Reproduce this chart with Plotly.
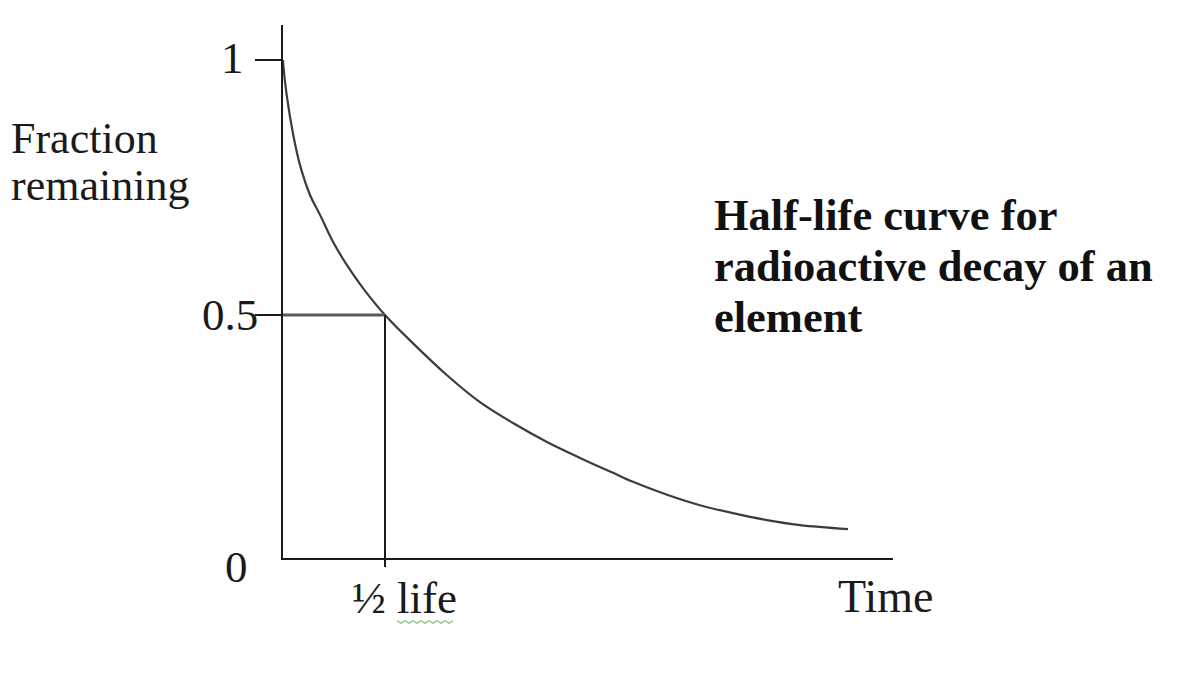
import plotly.graph_objects as go

# ---- data (x in half-lives, y = fraction remaining) ----
time_vals = [0.0, 0.003, 0.036, 0.101, 0.167, 0.265, 0.363, 0.490, 0.627, 0.784,
             1.0, 1.275, 1.608, 1.931, 2.255, 2.588, 2.912, 3.235, 3.431, 3.765,
             4.088, 4.412, 4.745, 5.069, 5.539]
fraction_vals = [1.0, 0.990, 0.930, 0.849, 0.789, 0.729, 0.689, 0.635, 0.588, 0.542,
                 0.488, 0.431, 0.367, 0.313, 0.271, 0.233, 0.201, 0.171, 0.153, 0.127,
                 0.106, 0.090, 0.076, 0.066, 0.058]
half_life = 1.0
half_fraction = 0.488
y_tick_vals = [half_fraction, 1.0]
x_tick_vals = [half_life]

# ---- figure geometry ----
W, H = 1200, 675
OFF = 8  # page offset of the plot div
PLOT_L, PLOT_R, PLOT_T, PLOT_B = 283, 893, 25, 558   # on-screen plot box
L, R = PLOT_L - OFF, W + OFF - PLOT_R
T, B = PLOT_T - OFF, H + OFF - PLOT_B
PW, PH = PLOT_R - PLOT_L, PLOT_B - PLOT_T


def px(x):
    return (x - PLOT_L) / PW


def py(y):
    return (PLOT_B - y) / PH


fig = go.Figure()

fig.add_trace(go.Scatter(
    x=time_vals, y=fraction_vals, mode="lines",
    line=dict(color="#3c3c3c", width=2.2, shape="spline", smoothing=1.0),
    hoverinfo="skip", showlegend=False))

# half-life guide lines
fig.add_trace(go.Scatter(
    x=[0, half_life], y=[half_fraction, half_fraction], mode="lines",
    line=dict(color="#5a5a5a", width=3), hoverinfo="skip", showlegend=False))
fig.add_trace(go.Scatter(
    x=[half_life, half_life], y=[0, half_fraction], mode="lines",
    line=dict(color="#1a1a1a", width=2), hoverinfo="skip", showlegend=False))

serif = "Liberation Serif"
txt = dict(family=serif, size=45, color="#1a1a1a")
side = dict(family=serif, size=44, color="#1a1a1a")
big = dict(family=serif, size=46, color="#1a1a1a")
bold = dict(family=serif, size=44.5, color="#111111")

annotations = [
    dict(text="1", x=px(246), y=py(58), xanchor="right", yanchor="middle", font=txt),
    dict(text="0.5", x=px(260), y=py(315), xanchor="right", yanchor="middle", font=txt),
    dict(text="0", x=px(236), y=py(567), xanchor="center", yanchor="middle", font=txt),
    dict(text="Fraction", x=px(9), y=py(138), xanchor="left", yanchor="middle", font=side),
    dict(text="remaining", x=px(9), y=py(185), xanchor="left", yanchor="middle", font=side),
    dict(text="½ life", x=px(404), y=py(598), xanchor="center", yanchor="middle", font=txt),
    dict(text="Time", x=px(885), y=py(596), xanchor="center", yanchor="middle", font=big),
    dict(text="<b>Half-life curve for</b>", x=px(712), y=py(215), xanchor="left", yanchor="middle", font=bold),
    dict(text="<b>radioactive decay of an</b>", x=px(712), y=py(266), xanchor="left", yanchor="middle", font=bold),
    dict(text="<b>element</b>", x=px(712), y=py(317), xanchor="left", yanchor="middle", font=bold),
]
for a in annotations:
    a.update(xref="paper", yref="paper", showarrow=False)

# spell-check squiggle under "life"
sq_x0, sq_x1, sq_y, sq_h, step = 397, 455, 622, 2.5, 4
pts = []
xx = sq_x0
k = 0
while xx <= sq_x1:
    pts.append((px(xx), py(sq_y + (sq_h if k % 2 else -sq_h) / 2)))
    xx += step
    k += 1
path = "M " + " L ".join(f"{a:.5f},{b:.5f}" for a, b in pts)

fig.update_layout(
    width=W, height=H,
    margin=dict(l=L, r=R, t=T, b=B, pad=0),
    paper_bgcolor="white", plot_bgcolor="white",
    annotations=annotations,
    shapes=[dict(type="path", path=path, xref="paper", yref="paper",
                 line=dict(color="#7fc07f", width=1.2))],
    xaxis=dict(range=[0, PW / 102], showgrid=False, zeroline=False,
               showline=True, linecolor="#1a1a1a", linewidth=2,
               ticks="outside", ticklen=7, tickwidth=2, tickcolor="#1a1a1a",
               tickvals=x_tick_vals, showticklabels=False),
    yaxis=dict(range=[0, PH / 498], showgrid=False, zeroline=False,
               showline=True, linecolor="#1a1a1a", linewidth=2,
               ticks="outside", ticklen=26, tickwidth=2, tickcolor="#1a1a1a",
               tickvals=y_tick_vals, showticklabels=False),
)

fig.write_html("out.html")
